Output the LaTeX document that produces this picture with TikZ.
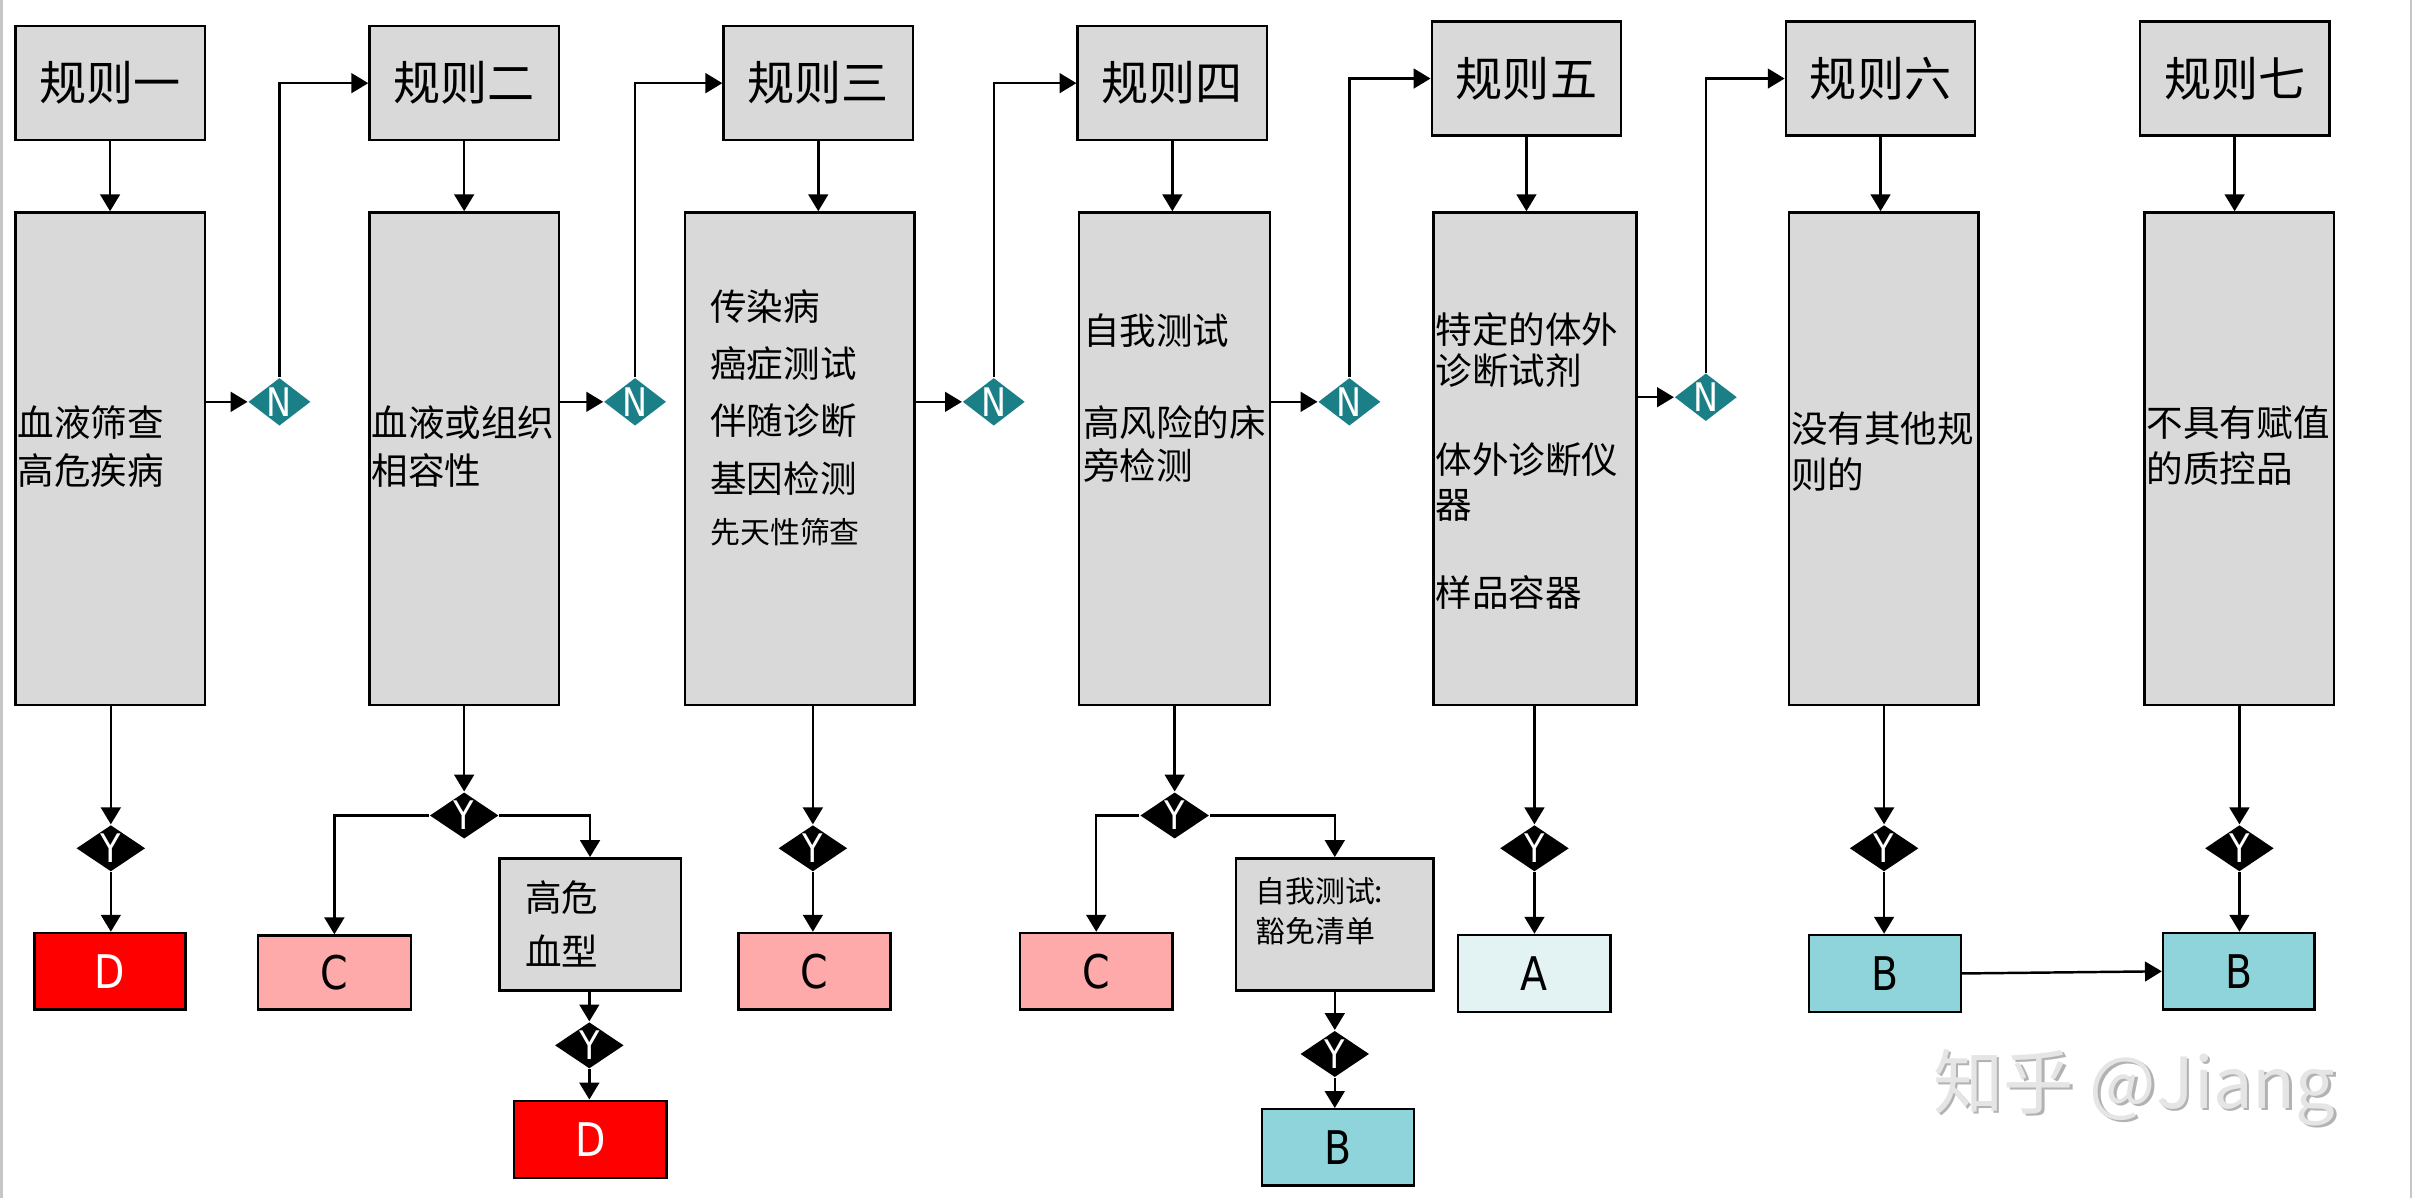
\documentclass[tikz,border=0pt]{standalone}
\usepackage{fontspec}
\setmainfont{Noto Sans CJK SC}
\newfontfamily\latf[FakeStretch=0.85]{DejaVu Sans}
\usetikzlibrary{arrows.meta,shapes.geometric,fit}
\definecolor{boxgray}{HTML}{D9D9D9}
\definecolor{dred}{HTML}{FF0000}
\definecolor{cpink}{HTML}{FFAAAA}
\definecolor{alight}{HTML}{E3F2F3}
\definecolor{bteal}{HTML}{8ED4DA}
\definecolor{nteal}{HTML}{1A7F87}
\begin{document}
\begin{tikzpicture}[x=0.0154cm,y=-0.0154cm,
  frame/.style={draw=black,line width=0.7pt,inner sep=0pt},
  graybox/.style={frame,fill=boxgray},
  titlefont/.style={inner sep=0pt,font=\fontsize{13.4}{16}\selectfont},
  txt/.style={anchor=west,inner sep=0pt,font=\fontsize{10.4}{12}\selectfont},
  smalltxt/.style={anchor=west,inner sep=0pt,font=\fontsize{8.5}{10}\selectfont},
  gradetxt/.style={inner sep=0pt,font=\latf\fontsize{13.2}{15}\selectfont},
  dbox/.style={frame,fill=dred},
  cbox/.style={frame,fill=cpink},
  abox/.style={frame,fill=alight},
  bbox/.style={frame,fill=bteal},
  ndia/.style={diamond,aspect=1.3,fill=nteal,inner sep=0pt,minimum width=0.62cm,minimum height=0.465cm,text=white,font=\latf\fontsize{11.2}{12}\selectfont},
  ydia/.style={diamond,aspect=1.45,fill=black,inner sep=0pt,minimum width=0.69cm,minimum height=0.465cm,text=white,font=\latf\fontsize{11.2}{12}\selectfont},
  arr/.style={-{Triangle[length=4.8pt,width=5.6pt]},line width=0.7pt}
]
\useasboundingbox (0,0) rectangle (1568,778.2);
\fill[white] (0,0) rectangle (1568,778.2);
\draw[gray!45,line width=0.8pt] (1,0) coordinate (el1) -- (1,778.2) coordinate (el2);
\draw[gray!45,line width=0.8pt] (1566,0) coordinate (er1) -- (1566,778.2) coordinate (er2);

% top boxes
\node[graybox,fit={(10,17) (133,91)}] (t1) {};
\node[graybox,fit={(240,17) (363,91)}] (t2) {};
\node[graybox,fit={(470,17) (593,91)}] (t3) {};
\node[graybox,fit={(700,17) (823,91)}] (t4) {};
\node[graybox,fit={(930,14) (1053,88)}] (t5) {};
\node[graybox,fit={(1160,14) (1283,88)}] (t6) {};
\node[graybox,fit={(1390,14) (1513,88)}] (t7) {};
\node[titlefont] (t1l) at (t1.center) {规则一};
\node[titlefont] (t2l) at (t2.center) {规则二};
\node[titlefont] (t3l) at (t3.center) {规则三};
\node[titlefont] (t4l) at (t4.center) {规则四};
\node[titlefont] (t5l) at (t5.center) {规则五};
\node[titlefont] (t6l) at (t6.center) {规则六};
\node[titlefont] (t7l) at (t7.center) {规则七};

% main boxes
\node[graybox,fit={(10,138) (133,458)}] (m1) {};
\node[graybox,fit={(240,138) (363,458)}] (m2) {};
\node[graybox,fit={(445,138) (594,458)}] (m3) {};
\node[graybox,fit={(701,138) (825,458)}] (m4) {};
\node[graybox,fit={(931,138) (1063,458)}] (m5) {};
\node[graybox,fit={(1162,138) (1285,458)}] (m6) {};
\node[graybox,fit={(1393,138) (1516,458)}] (m7) {};

% texts in main boxes
\node[txt] (m1a) at (11,274.7) {血液筛查};
\node[txt] (m1b) at (11,305.7) {高危疾病};
\node[txt] (m2a) at (241,274.7) {血液或组织};
\node[txt] (m2b) at (241,305.7) {相容性};
\node[txt] (m3a) at (461,198.8) {传染病};
\node[txt] (m3b) at (461,236.2) {癌症测试};
\node[txt] (m3c) at (461,273.4) {伴随诊断};
\node[txt] (m3d) at (461,310.7) {基因检测};
\node[smalltxt] (m3e) at (461,345.6) {先天性筛查};
\node[txt] (m4a) at (703,215) {自我测试};
\node[txt] (m4b) at (703,274.7) {高风险的床};
\node[txt] (m4c) at (703,302) {旁检测};
\node[txt] (m5a) at (932,213.8) {特定的体外};
\node[txt] (m5b) at (932,241) {诊断试剂};
\node[txt] (m5c) at (932,298.4) {体外诊断仪};
\node[txt] (m5d) at (932,328) {器};
\node[txt] (m5e) at (932,385) {样品容器};
\node[txt] (m6a) at (1163,278.4) {没有其他规};
\node[txt] (m6b) at (1163,308) {则的};
\node[txt] (m7a) at (1394,274.7) {不具有赋值};
\node[txt] (m7b) at (1394,304.5) {的质控品};

% N diamonds
\node[ndia] (n1) at (181.5,261) {N};
\node[ndia] (n2) at (412.5,261) {N};
\node[ndia] (n3) at (645.5,261) {N};
\node[ndia] (n4) at (876.5,261) {N};
\node[ndia] (n5) at (1108,258) {N};

% Y diamonds
\node[ydia] (y1) at (72,551) {Y};
\node[ydia] (y2) at (301.5,529.7) {Y};
\node[ydia] (y3) at (382.8,679) {Y};
\node[ydia] (y4) at (528,551) {Y};
\node[ydia] (y5) at (763,529.7) {Y};
\node[ydia] (y6) at (867,684.6) {Y};
\node[ydia] (y7) at (996.7,551) {Y};
\node[ydia] (y8) at (1223.8,551) {Y};
\node[ydia] (y9) at (1454.6,551) {Y};

% result boxes
\node[dbox,fit={(22.3,606) (120.6,655.8)}] (d1) {};
\node[cbox,fit={(167.6,607.7) (266.8,655.8)}] (c2) {};
\node[graybox,fit={(324.3,557.5) (442.2,643.4)}] (hb) {};
\node[txt] (hba) at (340.7,583) {高危};
\node[txt] (hbb) at (340.7,617.7) {血型};
\node[dbox,fit={(333.8,715) (433,765)}] (d2) {};
\node[cbox,fit={(479.6,606) (578.3,655.8)}] (c3) {};
\node[cbox,fit={(662.5,606) (761.6,655.8)}] (c4) {};
\node[graybox,fit={(803,557.5) (931,643.4)}] (sb) {};
\node[smalltxt] (sba) at (815,579) {自我测试:};
\node[smalltxt] (sbb) at (815,605) {豁免清单};
\node[bbox,fit={(819.6,720.5) (918.3,770)}] (b1) {};
\node[abox,fit={(946.9,607.3) (1046.1,657.3)}] (a1) {};
\node[bbox,fit={(1174.9,607.3) (1273.6,657.3)}] (b2) {};
\node[bbox,fit={(1405,606) (1503.5,655.8)}] (b3) {};
\node[gradetxt,text=white] (d1l) at (d1.center) {D};
\node[gradetxt] (c2l) at (c2.center) {C};
\node[gradetxt,text=white] (d2l) at (d2.center) {D};
\node[gradetxt] (c3l) at (c3.center) {C};
\node[gradetxt] (c4l) at (c4.center) {C};
\node[gradetxt] (b1l) at (b1.center) {B};
\node[gradetxt] (a1l) at (a1.center) {A};
\node[gradetxt] (b2l) at (b2.center) {B};
\node[gradetxt] (b3l) at (b3.center) {B};

% top to main
\foreach \i in {1,...,7}{
  \draw[arr] (t\i.south) -- (t\i.south |- m\i.north);
}

% main to N
\draw[arr] (m1.east |- n1) -- (n1.west);
\draw[arr] (m2.east |- n2) -- (n2.west);
\draw[arr] (m3.east |- n3) -- (n3.west);
\draw[arr] (m4.east |- n4) -- (n4.west);
\draw[arr] (m5.east |- n5) -- (n5.west);

% N to next rule
\draw[arr] (n1.north) |- (t2.west);
\draw[arr] (n2.north) |- (t3.west);
\draw[arr] (n3.north) |- (t4.west);
\draw[arr] (n4.north) |- (t5.west);
\draw[arr] (n5.north) |- (t6.west);

% main to Y
\draw[arr] (m1.south -| y1.north) -- (y1.north);
\draw[arr] (m2.south -| y2.north) -- (y2.north);
\draw[arr] (m3.south -| y4.north) -- (y4.north);
\draw[arr] (m4.south -| y5.north) -- (y5.north);
\draw[arr] (m5.south -| y7.north) -- (y7.north);
\draw[arr] (m6.south -| y8.north) -- (y8.north);
\draw[arr] (m7.south -| y9.north) -- (y9.north);

% Y to results
\draw[arr] (y1.south) -- (y1.south |- d1.north);
\draw[arr] (y2.west) -| (c2.north);
\draw[arr] (y2.east) -| (hb.north);
\draw[arr] (hb.south -| y3.north) -- (y3.north);
\draw[arr] (y3.south) -- (y3.south |- d2.north);
\draw[arr] (y4.south) -- (y4.south |- c3.north);
\draw[arr] (y5.west) -| (c4.north);
\draw[arr] (y5.east) -| (sb.north);
\draw[arr] (sb.south -| y6.north) -- (y6.north);
\draw[arr] (y6.south) -- (y6.south |- b1.north);
\draw[arr] (y7.south) -- (y7.south |- a1.north);
\draw[arr] (y8.south) -- (y8.south |- b2.north);
\draw[arr] (y9.south) -- (y9.south |- b3.north);
\draw[arr] (b2.east) -- (b3.west);

% watermark
\node[anchor=west,inner sep=0pt,font=\fontsize{20}{24}\selectfont,text=gray!60] (wms) at (1257,708) {知乎 @Jiang};
\node[anchor=west,inner sep=0pt,font=\fontsize{20}{24}\selectfont,text=gray!20] (wm) at (1255.5,706.5) {知乎 @Jiang};
\end{tikzpicture}
\end{document}
